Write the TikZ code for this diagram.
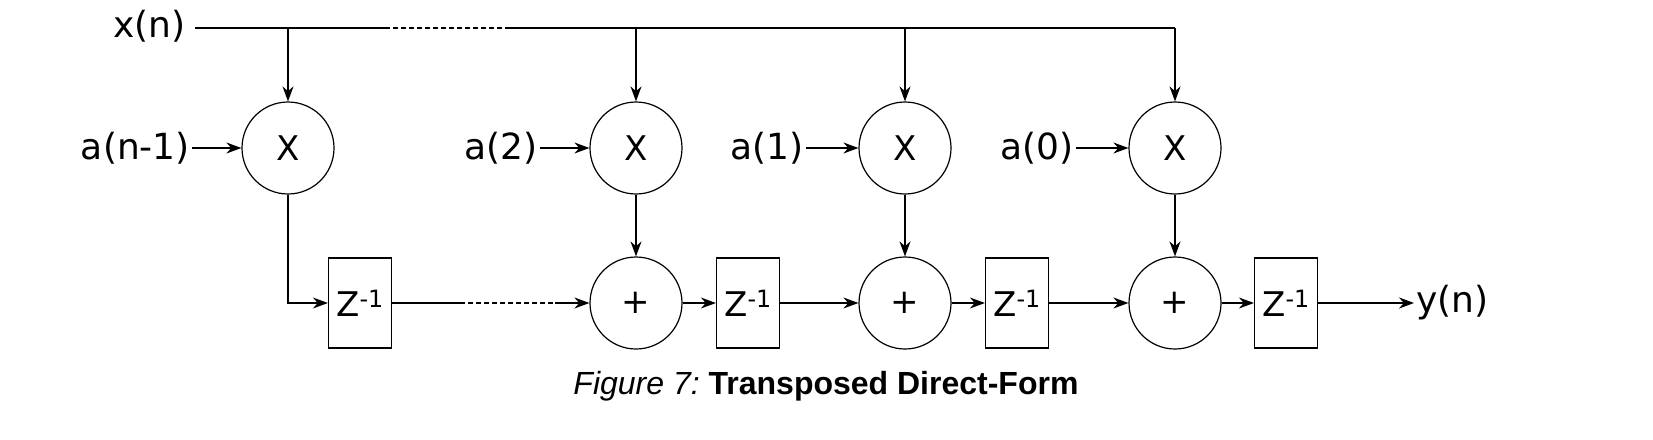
\documentclass[tikz,border=0pt]{standalone}
\usepackage{fontspec}
\setmainfont{DejaVu Sans}
\newfontfamily\capfont{Liberation Sans}
\usetikzlibrary{arrows.meta}
\begin{document}
\begin{tikzpicture}[x=1pt,y=-1pt,
  circ/.style={draw,circle,minimum size=92pt,inner sep=0pt,line width=1.2pt,font=\fontsize{34}{34}\selectfont},
  zbox/.style={draw,minimum width=63pt,minimum height=90pt,inner sep=0pt,line width=1.2pt,font=\fontsize{34}{34}\selectfont},
  lbl/.style={font=\fontsize{36}{36}\selectfont,inner sep=2pt},
  w/.style={line width=1.3pt},
  ar/.style={w,-{Stealth[length=15pt,width=11pt]}}]
\useasboundingbox (0,0) rectangle (1653,439);
\node[lbl,anchor=east] (x) at (188,26) {x(n)};
\coordinate (t0) at (195,28);
\coordinate (t1) at (288,28);
\coordinate (d0) at (385,28);
\coordinate (d1) at (505,28);
\coordinate (t2) at (636,28);
\coordinate (t3) at (905,28);
\coordinate (t4) at (1175,28);
\draw[w] (t0) -- (d0);
\draw[w,dash pattern=on 5pt off 3pt] (d0) -- (d1);
\draw[w] (d1) -- (t4);
\node[circ] (m1) at (288,148) {X};
\node[circ] (m2) at (636,148) {X};
\node[circ] (m3) at (905,148) {X};
\node[circ] (m4) at (1175,148) {X};
\foreach \i in {1,...,4} \draw[ar] (t\i) -- (m\i);
\node[lbl,anchor=east] (a1) at (192,148) {a(n-1)};
\node[lbl,anchor=east] (a2) at (540,148) {a(2)};
\node[lbl,anchor=east] (a3) at (806,148) {a(1)};
\node[lbl,anchor=east] (a4) at (1076,148) {a(0)};
\draw[ar] (a1) -- (m1); \draw[ar] (a2) -- (m2);
\draw[ar] (a3) -- (m3); \draw[ar] (a4) -- (m4);
\node[circ] (s2) at (636,303) {+};
\node[circ] (s3) at (905,303) {+};
\node[circ] (s4) at (1175,303) {+};
\draw[ar] (m2) -- (s2); \draw[ar] (m3) -- (s3); \draw[ar] (m4) -- (s4);
\node[zbox] (z1) at (360,303) {Z\textsuperscript{-1}};
\node[zbox] (z2) at (748,303) {Z\textsuperscript{-1}};
\node[zbox] (z3) at (1017,303) {Z\textsuperscript{-1}};
\node[zbox] (z4) at (1286,303) {Z\textsuperscript{-1}};
\draw[ar] (m1.south) |- (z1.west);
\coordinate (e0) at (460,303);
\coordinate (e1) at (555,303);
\draw[w] (z1.east) -- (e0);
\draw[w,dash pattern=on 5pt off 3pt] (e0) -- (e1);
\draw[ar] (e1) -- (s2);
\draw[ar] (s2) -- (z2); \draw[ar] (z2) -- (s3);
\draw[ar] (s3) -- (z3); \draw[ar] (z3) -- (s4);
\draw[ar] (s4) -- (z4);
\node[lbl,anchor=west] (y) at (1414,303) {y(n)};
\draw[ar] (z4) -- (y);
\node[font=\capfont\fontsize{32}{32}\selectfont] (cap) at (826,386) {\textit{Figure 7:}\ \textbf{Transposed Direct-Form}};
\end{tikzpicture}
\end{document}
